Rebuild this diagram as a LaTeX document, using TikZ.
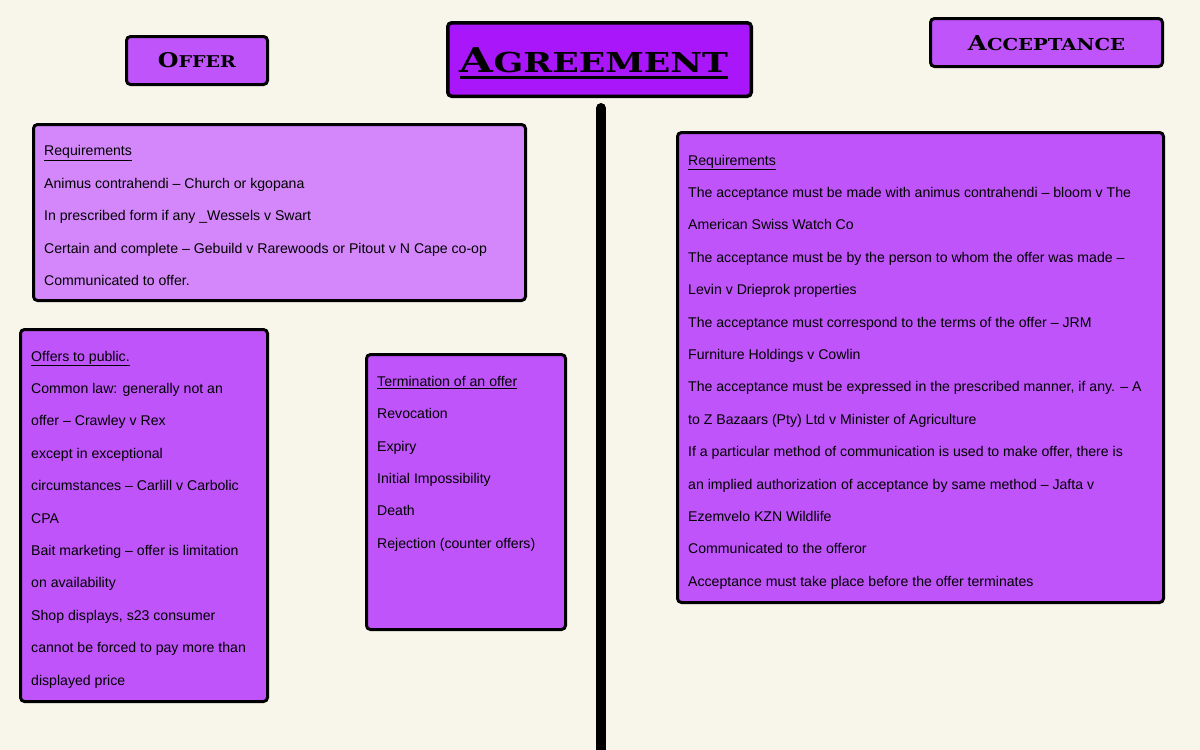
\documentclass[tikz,border=0pt]{standalone}
\usepackage{fontspec}
\setmainfont{Liberation Sans}
\newfontfamily\titlefont{DejaVu Serif}
\usepackage{graphicx}
\definecolor{bgcol}{RGB}{248,246,234}
\definecolor{midpurple}{RGB}{191,84,250}
\definecolor{lightpurple}{RGB}{212,134,251}
\definecolor{deeppurple}{RGB}{169,22,250}
\begin{document}
\begin{tikzpicture}[x=1pt,y=-1pt,
  box/.style={draw=black, line width=3pt, rounded corners=4pt, inner sep=0pt, anchor=north west},
  txt/.style={anchor=base west, inner sep=0pt, font=\fontsize{14.1}{16}\selectfont},
  ttl/.style={anchor=base, inner sep=0pt}]
\useasboundingbox[fill=bgcol] (0,0) rectangle (1200,750);

% vertical bar
\coordinate (bartop) at (601,108);
\coordinate (barbot) at (601,760);
\draw[line width=10pt, line cap=round] (bartop) -- (barbot);

% title boxes
\node[box, fill=midpurple, minimum width=141pt, minimum height=48pt] (offer) at (125,35) {};
\node[box, fill=deeppurple, line width=3.5pt, minimum width=303.5pt, minimum height=73.5pt] (agree) at (446,21) {};
\node[box, fill=midpurple, minimum width=232pt, minimum height=48pt] (accept) at (929,17) {};

\node[ttl] (offerT) at (197,67) {\resizebox{78pt}{15pt}{\titlefont\bfseries\fontsize{10}{10}\selectfont O\fontsize{8}{8}\selectfont FFER}};
\node[ttl] (acceptT) at (1046.5,50) {\resizebox{157pt}{15pt}{\titlefont\bfseries\fontsize{10}{10}\selectfont A\fontsize{8}{8}\selectfont CCEPTANCE}};
\node[ttl] (agreeT) at (594,72) {\resizebox{268pt}{25pt}{\titlefont\bfseries\fontsize{10}{10}\selectfont A\fontsize{8}{8}\selectfont GREEMENT}};
\draw[line width=3pt] ([yshift=-5.5pt]agreeT.base west) -- ([yshift=-5.5pt]agreeT.base east);

% content boxes
\node[box, fill=lightpurple, minimum width=492pt, minimum height=176pt] (oreq) at (32,123) {};
\node[box, fill=midpurple, minimum width=247pt, minimum height=372pt] (pub) at (19,328) {};
\node[box, fill=midpurple, minimum width=199pt, minimum height=275pt] (term) at (365,353) {};
\node[box, fill=midpurple, minimum width=486pt, minimum height=470pt] (areq) at (676,131) {};

\foreach \t [count=\i] in {
  {\underline{Requirements}},
  {Animus contrahendi \textendash\ Church or kgopana},
  {In prescribed form if any \_Wessels v Swart},
  {Certain and complete \textendash\ Gebuild v Rarewoods or Pitout v N Cape co-op},
  {Communicated to offer.}}
  \node[txt] (oreqL\i) at (44,{155.5+32.5*(\i-1)}) {\t};

\foreach \t [count=\i] in {
  {\underline{Offers to public.}},
  {Common law: generally not an},
  {offer \textendash\ Crawley v Rex},
  {except in exceptional},
  {circumstances \textendash\ Carlill v Carbolic},
  {CPA},
  {Bait marketing \textendash\ offer is limitation},
  {on availability},
  {Shop displays, s23 consumer},
  {cannot be forced to pay more than},
  {displayed price}}
  \node[txt] (pubL\i) at (31,{361+32.4*(\i-1)}) {\t};

\foreach \t [count=\i] in {
  {\underline{Termination of an offer}},
  {Revocation},
  {Expiry},
  {Initial Impossibility},
  {Death},
  {Rejection (counter offers)}}
  \node[txt] (termL\i) at (377,{386.5+32.3*(\i-1)}) {\t};

\foreach \t [count=\i] in {
  {\underline{Requirements}},
  {The acceptance must be made with animus contrahendi \textendash\ bloom v The},
  {American Swiss Watch Co},
  {The acceptance must be by the person to whom the offer was made \textendash},
  {Levin v Drieprok properties},
  {The acceptance must correspond to the terms of the offer \textendash\ JRM},
  {Furniture Holdings v Cowlin},
  {The acceptance must be expressed in the prescribed manner, if any. \textendash\ A},
  {to Z Bazaars (Pty) Ltd v Minister of Agriculture},
  {If a particular method of communication is used to make offer, there is},
  {an implied authorization of acceptance by same method \textendash\ Jafta v},
  {Ezemvelo KZN Wildlife},
  {Communicated to the offeror},
  {Acceptance must take place before the offer terminates}}
  \node[txt] (areqL\i) at (688,{165+32.4*(\i-1)}) {\t};
\end{tikzpicture}
\end{document}
